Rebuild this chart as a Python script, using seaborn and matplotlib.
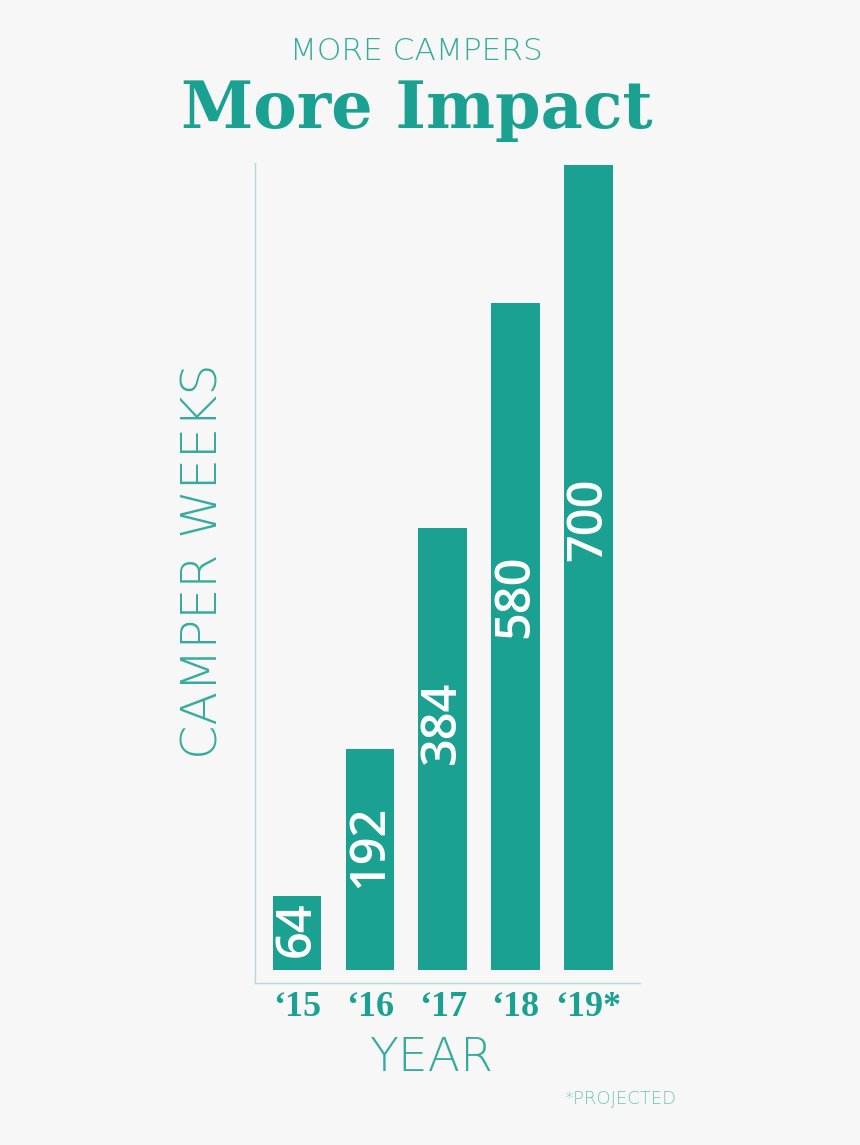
import matplotlib
matplotlib.use("Agg")
import matplotlib.pyplot as plt
import seaborn as sns
import pandas as pd

years = ["\u201815", "\u201816", "\u201817", "\u201818", "\u201819*"]
camper_weeks = [64, 192, 384, 580, 700]
value_labels = ["64", "192", "384", "580", "700"]

TEAL = "#1aa192"
LIGHT_TEAL = "#35ab9e"
AXIS_COL = "#b3dcd7"
BG = "#f7f7f7"

sns.set_theme(style="white")
plt.rcParams["font.family"] = ["Open Sans", "DejaVu Sans"]

W, H = 860, 1145
fig = plt.figure(figsize=(W / 100, H / 100), dpi=100, facecolor=BG)

def fx(px):
    return px / W

def fy(py):
    return 1 - py / H

ax = fig.add_axes([fx(255), fy(983), fx(640) - fx(255), (983 - 163) / H])
ax.set_facecolor(BG)

df = pd.DataFrame({"year": years, "weeks": camper_weeks})
sns.barplot(data=df, x="year", y="weeks", color=TEAL, saturation=1,
            width=0.667, ax=ax, edgecolor="none")

px_per_unit = 1.15
ax.set_ylim(-13 / px_per_unit, (970 - 163) / px_per_unit)
ax.set_xlim(-0.578, 4.71)

for s in ["top", "right"]:
    ax.spines[s].set_visible(False)
for s in ["left", "bottom"]:
    ax.spines[s].set_color(AXIS_COL)
    ax.spines[s].set_linewidth(1.0)

ax.set_yticks([])
ax.tick_params(axis="x", length=0, pad=6)
for lbl in ax.get_xticklabels():
    lbl.set_fontfamily(["Liberation Serif", "DejaVu Serif"])
    lbl.set_fontweight("bold")
    lbl.set_fontsize(26)
    lbl.set_color(TEAL)
ax.set_xlabel("")
ax.set_ylabel("")

for i, (v, t) in enumerate(zip(camper_weeks, value_labels)):
    ax.text(i, v * 0.56, t, rotation=90, ha="center", va="center",
            color="white", fontsize=35, fontweight="semibold",
            family=["Open Sans", "DejaVu Sans"])

light = dict(fontweight=200, family=["DejaVu Sans"])
fig.text(fx(416), fy(52), "MORE CAMPERS", ha="center", va="center",
         color=LIGHT_TEAL, fontsize=22.5, **light)
fig.text(fx(417), fy(110), "More Impact", ha="center", va="center",
         color=TEAL, fontsize=47, fontweight="bold",
         family=["DejaVu Serif"])
fig.text(fx(204), fy(561), "CAMPER WEEKS", ha="center", va="center",
         rotation=90, color=LIGHT_TEAL, fontsize=35.5, **light)
fig.text(fx(432), fy(1058), "YEAR", ha="center", va="center",
         color=LIGHT_TEAL, fontsize=34, **light)
fig.text(fx(620), fy(1099), "*PROJECTED", ha="center", va="center",
         color="#6cc4b9", fontsize=13, **light)

fig.savefig("out.png", dpi=100, facecolor=BG)
